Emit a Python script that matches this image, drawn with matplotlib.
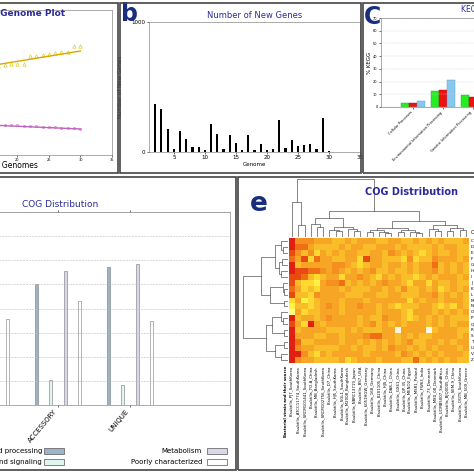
import matplotlib
matplotlib.use("Agg")
import matplotlib.pyplot as plt
import numpy as np
from matplotlib.colors import LinearSegmentedColormap
from matplotlib.patches import Rectangle

W = 474.0

# ---- data ----
# a: pan / core genome
pan_x = [15, 16, 17, 18, 19, 20, 21, 22, 23, 24, 25, 26, 27, 28, 29, 30]
pan_y = [86, 88, 89, 90, 91, 91, 91, 99, 99, 100, 101, 102, 103, 103, 109, 109]
core_y = [31, 31, 31, 30, 30, 30, 29, 29, 29, 28, 28, 28, 27, 27, 27, 26]

# b: new genes per genome
genome = list(range(2, 31))
new_genes = [370, 333, 174, 26, 159, 97, 36, 36, 18, 213, 136, 26, 133, 69, 13,
             128, 13, 59, 13, 26, 244, 31, 90, 49, 54, 62, 23, 264, 5]

# c: KEGG
kegg_cats = ["Cellular Processes", "Environmental Information Processing",
             "Genetic Information Processing"]
kegg_core = [3.5, 12.5, 9.5]
kegg_acc = [3.5, 13.5, 8.0]
kegg_uni = [4.5, 21.0, 7.0]

# d: COG
cog_groups = ["CORE", "ACCESSORY", "UNIQUE"]
cog_info = [48, 50, 57]
cog_cell = [15, 10.5, 8.4]
cog_meta = [52, 55.6, 58.5]
cog_poor = [35.6, 43.3, 35]
cog_names = ["Information storage and processing", "Cellular processes and signaling",
             "Metabolism", "Poorly characterized"]

# e: heatmap levels (0 pale .. 9 red), rows top->bottom
heat_rows = [
    "96665554454555445544545454445",
    "97754444545544555454444545544",
    "86463545455445546545434544544",
    "75837554455385544436344655545",
    "94555556654345545545455745454",
    "98877656545456445445455645454",
    "88743455355654354544345455545",
    "84332566745454565543553544544",
    "75343555454445545464454534545",
    "84436555544455445544455645454",
    "35234555455545555553545545554",
    "24434565455655454344455434354",
    "15344555455555455543555454545",
    "94554565555454465543454545444",
    "85395455555456454545554545455",
    "94555544454544455055550455544",
    "95554455455567755454544555545",
    "97445555455454545456445545455",
    "96554444554544546554545455545",
    "99643545555545555465454545554",
    "96554444534555455544745454544",
]
strains = ["Bacterial strain and their source",
           "B.subtilis_PJ7_SouthKorea", "B.subtilis_ATCC11774_SouthKorea",
           "B.subtilis_SRCM101441_SouthKorea", "B.subtilis_TO-A_China",
           "B.subtilis_MB_Bangladesh", "B.subtilis_SRCM102756_SouthKorea",
           "B.subtilis_D7_China", "B.subtilis_HJ5_SouthKorea",
           "B.subtilis_SGL1_SouthKorea", "B.subtilis_M2008_Bangladesh",
           "B.subtilis_NBRC13719_Japan", "B.subtilis_BS7_USA",
           "B.subtilis_6051HGW_Germany", "B.subtilis_168_Germany",
           "B.subtilis_8201105_China", "B.subtilis_HJS_China",
           "B.subtilis_DA8-1_China", "B.subtilis_GX61_China",
           "B.subtilis_QP-35_China", "B.subtilis_MENO2_Egypt",
           "B.subtilis_MSR1_Poland", "B.subtilis_FW63_India",
           "B.subtilis_73_Denmark", "B.subtilis_M80_08_Denmark",
           "B.subtilis_UCMB5007_SouthAfrica", "B.subtilis_BJQ0005_China",
           "B.subtilis_SEM-9_China", "B.subtilis_OGTS_SouthKorea",
           "B.subtilis_MB_509_Greece"]
cog_letters = list("CDEFGHIJKLMNOPQRSTUVZ")

fig = plt.figure(figsize=(4.74, 4.74), dpi=100)


def px_axes(x0, y0, x1, y1, **kw):
    return fig.add_axes([x0 / W, 1 - y1 / W, (x1 - x0) / W, (y1 - y0) / W], **kw)


def frame(x0, y0, x1, y1):
    fig.patches.append(Rectangle((x0 / W, 1 - y1 / W), (x1 - x0) / W, (y1 - y0) / W,
                                 transform=fig.transFigure, fill=False,
                                 edgecolor="#444444", linewidth=1.2, zorder=10))


def small(ax, fs=3):
    ax.tick_params(labelsize=fs, length=1.5, width=0.4, pad=1)
    for s in ax.spines.values():
        s.set_linewidth(0.5)
        s.set_edgecolor("#888888")


TITLE_C = "#2b2b9b"

# ---- a ----
ax = px_axes(-109, 10, 112, 155)
ax.plot(pan_x, pan_y, "^", ms=2.5, color="#e8d24a", mfc="none", mew=0.6)
ax.plot([1, 30], [74, 104], color="#d9a800", lw=1.0)
ax.plot(pan_x, core_y, "o", ms=1.5, color="#d070c0", mfc="none", mew=0.5)
ax.plot([1, 30], [34, 26], color="#c060c0", lw=1.0)
ax.set_xlim(0, 35)
ax.set_ylim(0, 145)
ax.set_xticks([20, 25, 30, 35])
ax.set_yticks([])
small(ax, 2.5)
fig.text(38 / W, 1 - 166 / W, "Number of Genomes", fontsize=5.5, ha="right", va="center")
fig.text(65 / W, 1 - 13 / W, "Pan Genome Plot", fontsize=6.5, color=TITLE_C, ha="right",
         va="center", fontweight="bold")
frame(-5, 3, 118, 173)

# ---- b ----
ax = px_axes(149, 22, 360, 152)
ax.bar(genome, new_genes, width=0.35, color="black")
ax.set_xlim(1, 35)
ax.set_ylim(0, 1000)
ax.set_yticks([0, 1000])
ax.set_xticks([5, 10, 15, 20, 25, 30, 35])
small(ax, 4)
ax.set_xlabel("Genome", fontsize=4, labelpad=1)
ax.set_ylabel("Number of New Genes", fontsize=4, labelpad=6)
ax.set_title("Number of New Genes", fontsize=6, color=TITLE_C, pad=3)
fig.text(121 / W, 1 - 14 / W, "b", fontsize=17, fontweight="bold", color="#1a2e80",
         ha="left", va="center")
frame(120, 3, 361, 173)

# ---- c ----
ax = px_axes(381, 18, 500, 107)
xc = np.arange(len(kegg_cats))
bw = 0.27
ax.bar(xc - bw, kegg_core, bw, color="#22ee22", edgecolor="#22aa22", lw=0.3)
ax.bar(xc, kegg_acc, bw, color="#ee1111", edgecolor="#aa1111", lw=0.3)
ax.bar(xc + bw, kegg_uni, bw, color="#88c8ee", edgecolor="#5599cc", lw=0.3)
ax.set_xlim(-1.07, 2.9)
ax.set_ylim(0, 70)
ax.set_yticks(range(0, 71, 10))
ax.set_xticks(xc)
ax.set_xticklabels(kegg_cats, rotation=45, ha="right", fontsize=2.5)
ax.yaxis.grid(True, ls="--", lw=0.3, color="#cccccc")
small(ax, 2.5)
ax.set_ylabel("% KEGG", fontsize=4, labelpad=1)
fig.text(461 / W, 1 - 10 / W, "KEGG Distribution", fontsize=5.5, color=TITLE_C,
         ha="left", va="center")
fig.text(364 / W, 1 - 17 / W, "C", fontsize=17, fontweight="bold", color="#1a2e80",
         ha="left", va="center")
frame(363, 3, 480, 173)

# ---- d ----
ax = px_axes(-60, 212, 230, 405)
xg = np.arange(len(cog_groups))
ob = 0.2
cols = ["#9fb3c8", "#dff5f0", "#d8d8e8", "#ffffff"]
for off, vals, c in zip([-1.5, -0.5, 0.5, 1.5], [cog_info, cog_cell, cog_meta, cog_poor], cols):
    ax.bar(xg + off * ob, vals, 0.04, color=c, edgecolor="#777777", lw=0.4)
ax.set_xlim(-0.64, 3.39)
ax.set_ylim(0, 80)
ax.set_yticks(range(0, 81, 10))
ax.set_yticklabels([])
ax.yaxis.grid(True, ls="--", lw=0.4, color="#bbbbbb")
ax.set_xticks(xg)
ax.set_xticklabels(cog_groups, rotation=50, ha="right", fontsize=5)
ax.tick_params(axis="x", top=True, length=3)
small(ax, 5)
fig.text(60 / W, 1 - 205 / W, "COG Distribution", fontsize=6.5, color=TITLE_C,
         ha="center", va="center")
# legend
for (tx, bx, y), name, c in zip([(42, 44, 451), (42, 44, 462), (202, 207, 451), (202, 207, 462)],
                                cog_names, cols):
    fig.text(tx / W, 1 - y / W, name, fontsize=5, ha="right", va="center")
    fig.patches.append(Rectangle((bx / W, 1 - (y + 3) / W), 20 / W, 6 / W,
                                 transform=fig.transFigure, facecolor=c,
                                 edgecolor="#555555", lw=0.5))
frame(-5, 177, 236, 470)

# ---- e ----
heat = np.array([[int(ch) for ch in r] for r in heat_rows], dtype=float)
nr, nc = heat.shape
cmap = LinearSegmentedColormap.from_list(
    "hm", ["#fff8e0", "#ffff50", "#ffd830", "#f8b028", "#f59020", "#ee6010", "#e02010"])
hx0, hx1, hy0, hy1 = 289, 469, 238, 363
ax = px_axes(hx0, hy0, hx1, hy1)
ax.imshow(heat, cmap=cmap, vmin=0, vmax=9, aspect="auto", interpolation="nearest")
ax.set_axis_off()
cw = (hx1 - hx0) / nc
rh = (hy1 - hy0) / nr
for i, name in enumerate(strains):
    x = hx0 + (i - 0.5) * cw
    fig.text(x / W, 1 - (hy1 + 3) / W, name, rotation=90, fontsize=2.8, ha="center",
             va="top", fontweight="bold" if i == 0 else "normal")
for j, L in enumerate(cog_letters):
    fig.text((hx1 + 2) / W, 1 - (hy0 + (j + 0.5) * rh) / W, L, fontsize=3, va="center")
fig.text((hx1 + 2) / W, 1 - (hy0 - 5) / W, "C", fontsize=3.5, va="center")


# dendrograms from nested lists [height, left, right]; leaves are None
def draw_tree(node, pos, axd, vertical):
    if node is None:
        p = pos[0]
        pos[0] += 1
        return p, 0.0
    h, a, b = node
    pa, ha = draw_tree(a, pos, axd, vertical)
    pb, hb = draw_tree(b, pos, axd, vertical)
    if vertical:
        axd.plot([pa, pa, pb, pb], [ha, h, h, hb], color="#555555", lw=0.5)
    else:
        axd.plot([ha, h, h, hb], [pa, pa, pb, pb], color="#555555", lw=0.5)
    return (pa + pb) / 2, h


def leaves(n, h):
    if n == 1:
        return None
    k = n // 2
    return [h, leaves(k, h * 0.7), leaves(n - k, h * 0.75)]


top_tree = [10, [6, None, [2, None, None]],
            [4.5, [3.2, leaves(3, 2.2), leaves(6, 1.8)],
             [2.8, leaves(10, 1.6), leaves(7, 2.0)]]]
axd = px_axes(hx0, 177, hx1, hy0 - 1)
draw_tree(top_tree, [0], axd, True)
axd.set_xlim(-0.5, nc - 0.5)
axd.set_ylim(0, 10.3)
axd.set_axis_off()

left_tree = [10, [6, [3, leaves(3, 1.5), leaves(4, 2)], [4, leaves(3, 1.2), leaves(2, 1)]],
             [5, [3.5, leaves(3, 1.5), leaves(2, 1)], [3, leaves(2, 1), leaves(2, 1.5)]]]
axl = px_axes(242, hy0, hx0 - 1, hy1)
draw_tree(left_tree, [0], axl, False)
axl.set_ylim(nr - 0.5, -0.5)
axl.set_xlim(10.3, 0)
axl.set_axis_off()

fig.text(365 / W, 1 - 192 / W, "COG Distribution", fontsize=7, color=TITLE_C,
         fontweight="bold", ha="left", va="center")
fig.text(250 / W, 1 - 204 / W, "e", fontsize=19, fontweight="bold", color="#1a2e80",
         ha="left", va="center")
frame(238, 177, 480, 470)

fig.savefig("out.png", dpi=100)
